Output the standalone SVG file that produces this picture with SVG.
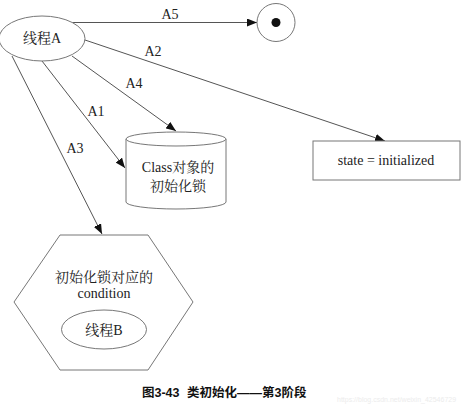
<svg xmlns="http://www.w3.org/2000/svg" width="474" height="409" viewBox="0 0 474 409">
<defs>
<style>
.shape{fill:#fff;stroke:#777;stroke-width:1}
.edge{fill:none;stroke:#555;stroke-width:1}
.t{font-family:"Liberation Serif","Noto Serif CJK SC","Noto Sans CJK SC",serif;font-size:14px;fill:#222}
.lbl{font-family:"Liberation Serif",serif;font-size:14px;fill:#222}
.cap{font-family:"Liberation Sans","Noto Sans CJK SC",sans-serif;font-size:12.5px;font-weight:bold;fill:#111}
.wm{font-family:"Liberation Sans",sans-serif;font-size:7px;fill:#ececec}
</style>
<marker id="arr" viewBox="0 0 10 8" refX="10" refY="4" markerWidth="10" markerHeight="8" markerUnits="userSpaceOnUse" orient="auto">
<path d="M0,0 L10,4 L0,8 Z" fill="#111"/>
</marker>
</defs>
<rect width="474" height="409" fill="#fff"/>
<g id="connectors">
<line class="edge" x1="72" y1="22.5" x2="257" y2="22.5" marker-end="url(#arr)"/>
<line class="edge" x1="85" y1="40" x2="385" y2="141" marker-end="url(#arr)"/>
<line class="edge" x1="72" y1="56" x2="176" y2="131" marker-end="url(#arr)"/>
<line class="edge" x1="42" y1="61" x2="125" y2="168" marker-end="url(#arr)"/>
<line class="edge" x1="12" y1="56" x2="102" y2="234" marker-end="url(#arr)"/>
<text class="lbl" x="170" y="19" text-anchor="middle">A5</text>
<text class="lbl" x="153" y="56" text-anchor="middle">A2</text>
<text class="lbl" x="134" y="88" text-anchor="middle">A4</text>
<text class="lbl" x="96" y="116" text-anchor="middle">A1</text>
<text class="lbl" x="75" y="153" text-anchor="middle">A3</text>
</g>
<g id="threadA">
<ellipse class="shape" cx="42" cy="38.5" rx="43" ry="22.5"/>
<text class="t" x="42" y="43" text-anchor="middle">线程A</text>
</g>
<g id="final">
<circle class="shape" cx="276" cy="22.5" r="19"/>
<circle cx="276" cy="22.5" r="4.5" fill="#111"/>
</g>
<g id="state">
<rect class="shape" x="313" y="141" width="147" height="39"/>
<text class="t" x="386" y="165" text-anchor="middle">state = initialized</text>
</g>
<g id="lock">
<path class="shape" d="M126,139 L126,202 A50,7 0 0 0 226,202 L226,139"/>
<ellipse class="shape" cx="176" cy="139" rx="50" ry="7"/>
<text class="t" x="178" y="172" text-anchor="middle">Class对象的</text>
<text class="t" x="178" y="191" text-anchor="middle">初始化锁</text>
</g>
<g id="condition">
<polygon class="shape" points="60,235 148,235 193,302 148,370 60,370 14,302"/>
<text class="t" x="104" y="282" text-anchor="middle">初始化锁对应的</text>
<text class="t" x="104" y="298" text-anchor="middle">condition</text>
</g>
<g id="threadB">
<ellipse class="shape" cx="104" cy="329.5" rx="42.5" ry="19.5"/>
<text class="t" x="104" y="335" text-anchor="middle">线程B</text>
</g>
<text class="cap" y="397"><tspan x="142">图3-43</tspan><tspan x="187">类初始化——第3阶段</tspan></text>
<text class="wm" x="337" y="402">https://blog.csdn.net/weixin_42546729</text>
</svg>
